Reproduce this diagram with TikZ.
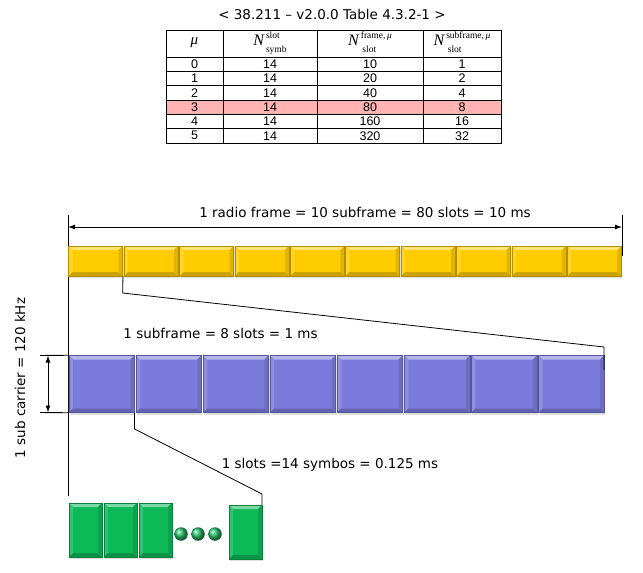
\documentclass[tikz,border=0pt]{standalone}
\usepackage{fontspec}
\setmainfont{DejaVu Sans}
\newfontfamily\ari{Liberation Sans}
\newfontfamily\tms{Liberation Serif}
\usetikzlibrary{shadows,arrows.meta,calc}
\definecolor{yel}{HTML}{FFCC00}
\definecolor{pur}{HTML}{7B7BDB}
\definecolor{grn}{HTML}{0DB857}
\definecolor{rowpink}{HTML}{FFB3B3}
\newcommand{\Nsy}[2]{{\tms\itshape\fontsize{16}{16}\selectfont N}\hspace{2pt}{\tms\fontsize{9.5}{11}\selectfont\begin{tabular}[c]{@{}l@{}}#1\\[2.5pt]#2\end{tabular}}}
\tikzset{
  bevel/.style={draw=#1!70!black, line width=0.5pt, fill=#1, inner sep=0pt,
    drop shadow={opacity=0.25, shadow xshift=1pt, shadow yshift=-2pt},
    path picture={
      \fill[#1!55!white] (path picture bounding box.north west) -- (path picture bounding box.north east)
        -- ([shift={(-4pt,-4pt)}]path picture bounding box.north east) -- ([shift={(4pt,-4pt)}]path picture bounding box.north west) -- cycle;
      \fill[#1!85!white] (path picture bounding box.north west) -- ([shift={(4pt,-4pt)}]path picture bounding box.north west)
        -- ([shift={(4pt,4pt)}]path picture bounding box.south west) -- (path picture bounding box.south west) -- cycle;
      \fill[#1!80!black] (path picture bounding box.south west) -- (path picture bounding box.south east)
        -- ([shift={(-4pt,4pt)}]path picture bounding box.south east) -- ([shift={(4pt,4pt)}]path picture bounding box.south west) -- cycle;
      \fill[#1!88!black] (path picture bounding box.north east) -- ([shift={(-4pt,-4pt)}]path picture bounding box.north east)
        -- ([shift={(-4pt,4pt)}]path picture bounding box.south east) -- (path picture bounding box.south east) -- cycle;
    }},
  ybox/.style={bevel=yel, minimum width=54pt, minimum height=30pt},
  pbox/.style={bevel=pur, minimum width=65.5pt, minimum height=57pt},
  gbox/.style={bevel=grn, minimum width=33pt, minimum height=54pt},
  gdot/.style={circle, inner sep=0pt, minimum size=13.5pt, shading=ball, ball color=grn!90!white},
  lbl/.style={font=\fontsize{13.5}{16}\selectfont, inner sep=0pt},
  cell/.style={font=\ari\fontsize{12.5}{13}\selectfont, inner sep=0pt},
  hcell/.style={inner sep=0pt},
  zoomline/.style={line width=0.8pt},
}
\begin{document}
\begin{tikzpicture}[x=1pt,y=-1pt]
\useasboundingbox (0,0) rectangle (643,573);
% title
\node[font=\fontsize{13.5}{15}\selectfont, inner sep=0pt] (title) at (332,14) {< 38.211 – v2.0.0 Table 4.3.2-1 >};
% table
\fill[rowpink] (166,100) rectangle (501,114);
\foreach \yy in {57,71,85.5,100,114,128.5} \draw[line width=0.9pt] (166,\yy) -- (501,\yy);
\foreach \xx in {223,317,423} \draw[line width=0.9pt] (\xx,30) -- (\xx,143);
\draw[line width=1pt] (166,30) rectangle (501,143);
\node[hcell, font=\tms\itshape\fontsize{15}{15}\selectfont] (hmu) at (194.5,43) {μ};
\node[hcell] (hsym) at (270,43.5) {\Nsy{slot}{symb}};
\node[hcell] (hfr) at (370,43.5) {\Nsy{frame,\,\itshape μ}{\,slot}};
\node[hcell] (hsf) at (462,43.5) {\Nsy{subframe,\,\itshape μ}{\,slot}};
\foreach \m/\a/\b/\c/\yy in {0/14/10/1/64, 1/14/20/2/78.2, 2/14/40/4/92.7, 3/14/80/8/107, 4/14/160/16/121.2, 5/14/320/32/135.7}{
  \node[cell] (m\m) at (194.5,\yy) {\m};
  \node[cell] (s\m) at (270,\yy) {\a};
  \node[cell] (f\m) at (370,\yy) {\b};
  \node[cell] (u\m) at (462,\yy) {\c};
}
% radio frame
\node[lbl] (t1) at (365,212) {1 radio frame = 10 subframe = 80 slots = 10 ms};
\coordinate (lt) at (68,215);
\coordinate (lb) at (68,496);
\coordinate (rt) at (622,215);
\coordinate (rb) at (622,256);
\coordinate (aL) at (68,227);
\coordinate (aR) at (622,227);
\draw[line width=0.9pt] (lt) -- (lb);
\draw[line width=0.9pt] (rt) -- (rb);
\draw[line width=0.9pt, {Latex[length=7pt,width=5pt]}-{Latex[length=7pt,width=5pt]}] (aL) -- (aR);
\foreach \i in {1,...,10} \node[ybox] (y\i) at ({68+55.4*(\i-0.5)},261) {};
% subframe
\node[lbl] (t2) at (220.5,333) {1 subframe = 8 slots = 1 ms};
\foreach \i in {1,...,8} \node[pbox] (p\i) at ({68+67.1*(\i-0.5)},384) {};
\coordinate (z1a) at (122.7,293);
\coordinate (z1b) at (604,347);
\coordinate (z1c) at (604,370);
\draw[zoomline] (y1.south east) -- (z1a) -- (z1b) -- (z1c);
% height
\coordinate (hl1) at (40,355.5);
\coordinate (hl2) at (40,412.5);
\coordinate (ha1) at (48,355.5);
\coordinate (ha2) at (48,412.5);
\draw[line width=0.9pt] (hl1) -- (p1.north west);
\draw[line width=0.9pt] (hl2) -- (p1.south west);
\draw[line width=0.9pt, {Latex[length=7pt,width=5pt]}-{Latex[length=7pt,width=5pt]}] (ha1) -- (ha2);
\node[lbl, rotate=90] (t4) at (20,378) {1 sub carrier = 120 kHz};
% slot
\node[lbl] (t3) at (330,465) {1 slots =14 symbos = 0.125 ms};
\coordinate (z2a) at (134.6,429);
\coordinate (z2b) at (262,494);
\coordinate (z2c) at (262,512);
\draw[zoomline] (p1.south east) -- (z2a) -- (z2b) -- (z2c);
\node[gbox] (g1) at (85.5,530) {};
\node[gbox] (g2) at (120.5,530) {};
\node[gbox] (g3) at (155.5,530) {};
\node[gdot] (d1) at (181,534) {};
\node[gdot] (d2) at (198,534) {};
\node[gdot] (d3) at (215,534) {};
\node[gbox] (g4) at (245.5,532) {};
\end{tikzpicture}
\end{document}
